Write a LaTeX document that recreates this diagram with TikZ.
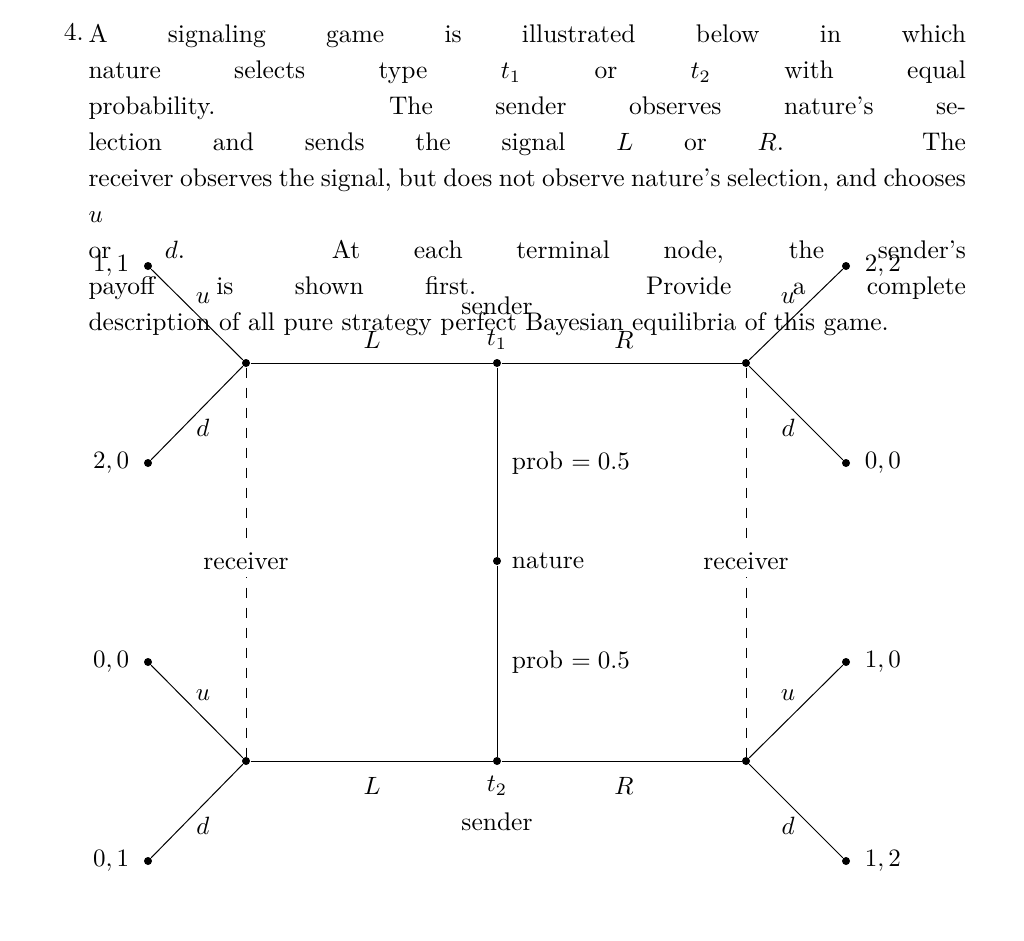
\documentclass[tikz,border=0pt]{standalone}
\begin{document}
\begin{tikzpicture}[x=0.4pt,y=-0.4pt,
  dot/.style={circle,fill,inner sep=0pt,minimum size=3.2pt},
  lab/.style={font=\fontsize{10.2}{14.4}\selectfont},
  edge/.style={line width=0.4pt}]
\useasboundingbox (0,0) rectangle (1024,940);
\node[lab,anchor=base west] (num) at (55,40) {4.};
\node[lab,anchor=north west,text width=351pt,align=justify,inner sep=0pt] (txt) at (88,24) {A signaling game is illustrated below in which nature selects type $t_1$ or $t_2$ with equal\linebreak probability. The sender observes nature's selection and sends the signal $L$ or $R$. The\linebreak receiver observes the signal, but does not observe nature's selection, and chooses $u$\linebreak or $d$. At each terminal node, the sender's payoff is shown first. Provide a complete\linebreak description of all pure strategy perfect Bayesian equilibria of this game.};
\node[dot] (t1) at (497,363) {};
\node[dot] (nat) at (497,561) {};
\node[dot] (t2) at (497,761) {};
\node[dot] (lt) at (246,363) {};
\node[dot] (lb) at (246,761) {};
\node[dot] (rt) at (746,363) {};
\node[dot] (rb) at (746,761) {};
\node[dot] (a1) at (148,266) {};
\node[dot] (a2) at (148,463) {};
\node[dot] (a3) at (148,662) {};
\node[dot] (a4) at (148,861) {};
\node[dot] (b1) at (846,266) {};
\node[dot] (b2) at (846,463) {};
\node[dot] (b3) at (846,662) {};
\node[dot] (b4) at (846,861) {};
\draw[edge] (lt)--(t1)--(rt) (lb)--(t2)--(rb) (t1)--(nat)--(t2);
\draw[edge] (a1)--(lt)--(a2) (a3)--(lb)--(a4) (b1)--(rt)--(b2) (b3)--(rb)--(b4);
\draw[edge,dash pattern=on 4pt off 4pt] (lt)--(lb) (rt)--(rb);
\node[lab,anchor=east] at (138,266) {$1,1$};
\node[lab,anchor=east] at (138,463) {$2,0$};
\node[lab,anchor=east] at (138,662) {$0,0$};
\node[lab,anchor=east] at (138,861) {$0,1$};
\node[lab,anchor=west] at (856,266) {$2,2$};
\node[lab,anchor=west] at (856,463) {$0,0$};
\node[lab,anchor=west] at (856,662) {$1,0$};
\node[lab,anchor=west] at (856,861) {$1,2$};
\node[lab] at (203,298) {$u$};
\node[lab] at (203,428) {$d$};
\node[lab] at (203,695) {$u$};
\node[lab] at (203,826) {$d$};
\node[lab] at (788,298) {$u$};
\node[lab] at (788,428) {$d$};
\node[lab] at (788,695) {$u$};
\node[lab] at (788,826) {$d$};
\node[lab] at (372,340) {$L$};
\node[lab] at (624,340) {$R$};
\node[lab] at (372,786) {$L$};
\node[lab] at (624,786) {$R$};
\node[lab] at (497,306) {sender};
\node[lab] at (497,340) {$t_1$};
\node[lab] at (497,786) {$t_2$};
\node[lab] at (497,822) {sender};
\node[lab,anchor=west] at (503,463) {prob $=0.5$};
\node[lab,anchor=west] at (503,662) {prob $=0.5$};
\node[lab,anchor=west] at (503,561) {nature};
\node[lab,fill=white,inner sep=3pt] at (246,561) {receiver};
\node[lab,fill=white,inner sep=3pt] at (746,561) {receiver};
\end{tikzpicture}
\end{document}
